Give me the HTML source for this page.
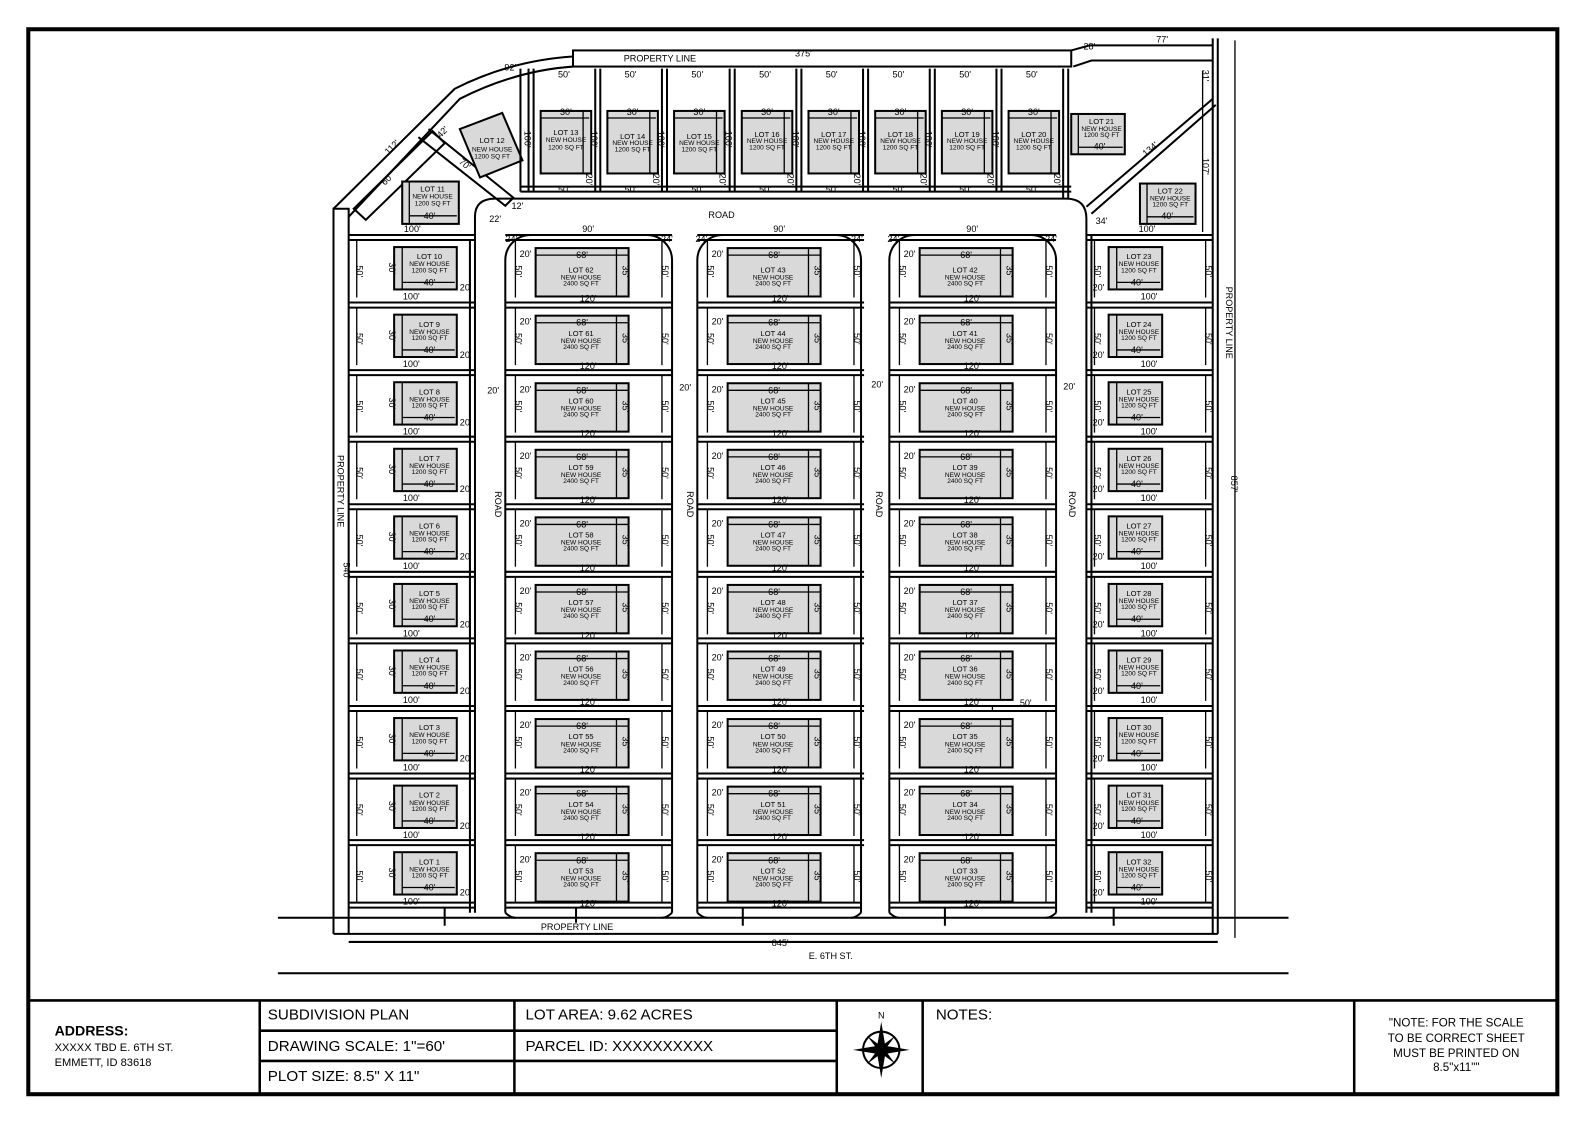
<!DOCTYPE html>
<html><head><meta charset="utf-8"><style>
html,body{margin:0;padding:0;background:#fff}
svg{display:block}
.s{stroke:#000;stroke-width:2;fill:none}
.t{stroke:#000;stroke-width:1.3;fill:none}
.h{fill:#d9d9d9;stroke:#000;stroke-width:2}
text{font-family:"Liberation Sans",sans-serif;fill:#000}
.d{font-size:9px;text-anchor:middle}
.l{font-size:6.5px;text-anchor:middle}
.lb{font-size:7.5px;text-anchor:middle}
.tb{font-size:15px}
</style></head><body>
<svg width="1587" height="1123" viewBox="0 0 1587 1123" xmlns="http://www.w3.org/2000/svg">
<defs>
<g id="L">
<path class="s" d="M0 0H125M0 5H125"/>
<path class="t" d="M8 5V62M120 5V62"/>
<rect class="h" x="45" y="12" width="62" height="42"/>
<path class="t" d="M53 12V54M53 47H105"/>
<text class="d" x="80" y="50">40'</text>
<text class="d" x="62" y="64">100'</text>
<text class="d" x="115" y="55">20</text>
<text class="d" transform="translate(8 36) rotate(90)">50'</text>
<text class="d" transform="translate(40 33) rotate(90)">30'</text>
</g>
<g id="R">
<path class="s" d="M0 0H125M0 5H125"/>
<path class="t" d="M8 5V62M118 5V62"/>
<rect class="h" x="22" y="12" width="53" height="42"/>
<path class="t" d="M30 12V54M30 47H73"/>
<text class="d" x="50" y="50">40'</text>
<text class="d" x="62" y="64">100'</text>
<text class="d" x="12" y="55">20'</text>
<text class="d" transform="translate(8 36) rotate(90)">50'</text>
<text class="d" transform="translate(118 36) rotate(90)">50'</text>
</g>
<g id="M">
<path class="s" d="M0 0H165M0 5H165"/>
<path class="t" d="M10 5V62M155 5V62"/>
<rect class="h" x="30" y="13" width="92" height="48"/>
<path class="t" d="M30 20H122M110 13V61"/>
<text class="d" x="76" y="23">68'</text>
<text class="d" x="82" y="66">120'</text>
<text class="d" x="20" y="22">20'</text>
<text class="d" transform="translate(10 36) rotate(90)">50'</text>
<text class="d" transform="translate(155 36) rotate(90)">50'</text>
<text class="d" transform="translate(116 36) rotate(90)">35'</text>
</g>
<g id="T">
<path class="s" d="M0 0V122M5 0V122"/>
<rect class="h" x="12" y="42" width="50" height="62"/>
<path class="t" d="M12 49H60M54 42V104"/>
<text class="d" x="35" y="9">50'</text>
<text class="d" x="37" y="46">30'</text>
<text class="d" x="35" y="123">50'</text>
<text class="d" transform="translate(-4 70) rotate(90)">100'</text>
<text class="d" transform="translate(57 110) rotate(90)">20'</text>
</g>
</defs>
<g transform="scale(1.0106 1.0085)">
<!-- frame -->
<rect x="28" y="29" width="1513" height="1056" fill="none" stroke="#000" stroke-width="4"/>
<path class="s" stroke-width="3" d="M28 992H1541M257 992V1085M509 992V1085M828 992V1085M913 992V1085M1340 992V1085M257 1022H828M257 1052H828" style="stroke-width:2.5"/>
<text x="54" y="1027" style="font-size:14px;font-weight:bold">ADDRESS:</text>
<text x="54" y="1042" style="font-size:11px">XXXXX TBD E. 6TH ST.</text>
<text x="54" y="1057" style="font-size:11px">EMMETT, ID 83618</text>
<text class="tb" x="265" y="1011">SUBDIVISION PLAN</text>
<text class="tb" x="265" y="1042">DRAWING SCALE: 1"=60'</text>
<text class="tb" x="265" y="1072">PLOT SIZE: 8.5" X 11"</text>
<text class="tb" x="520" y="1011">LOT AREA: 9.62 ACRES</text>
<text class="tb" x="520" y="1042">PARCEL ID: XXXXXXXXXX</text>
<text class="tb" x="926" y="1011">NOTES:</text>
<text x="1441" y="1018" style="font-size:11.5px;text-anchor:middle">"NOTE: FOR THE SCALE</text>
<text x="1441" y="1033" style="font-size:11.5px;text-anchor:middle">TO BE CORRECT SHEET</text>
<text x="1441" y="1048" style="font-size:11.5px;text-anchor:middle">MUST BE PRINTED ON</text>
<text x="1441" y="1062" style="font-size:11.5px;text-anchor:middle">8.5"x11""</text>
<text x="872" y="1010" style="font-size:9px;text-anchor:middle">N</text>
<circle cx="872" cy="1041" r="18" fill="none" stroke="#000" stroke-width="2"/>
<path d="M872 1013L876 1037L900 1041L876 1045L872 1069L868 1045L844 1041L868 1037Z" fill="#000"/>
<path d="M858 1027L874 1039L886 1055L870 1043ZM886 1027L870 1039L858 1055L874 1043Z" fill="#000"/>

<!-- streets -->
<path class="s" d="M275 910H1275M275 965H1275"/>
<path class="s" d="M330 926H1205M345 934H1205"/>
<text class="d" x="571" y="922">PROPERTY LINE</text>
<text class="d" x="772" y="938" style="fill:#000">845'</text>
<text class="d" x="822" y="951">E. 6TH ST.</text>
<!-- left property -->
<path class="s" d="M330 926V207H345V926"/>
<text class="d" transform="translate(334 487) rotate(90)">PROPERTY LINE</text>
<text class="d" transform="translate(340 566) rotate(90)">540'</text>
<path class="s" d="M470 233V905M465 238V905"/>
<!-- top boundary -->
<path class="s" d="M330 207L450 88Q505 60 567 56M345 215L455 98Q510 70 567 66"/>
<rect class="s" x="567" y="50" width="493" height="16"/>
<text class="d" x="653" y="61">PROPERTY LINE</text>
<text class="d" x="795" y="56">375'</text>
<path class="s" d="M1060 50L1078 45H1200M1062 66L1080 60H1200"/>
<text class="d" x="1078" y="49">28'</text><text class="d" x="1150" y="42">77'</text>
<path class="s" d="M350 207L428 130L440 142L362 218ZM414 136L500 204L508 196L424 128"/>
<text class="d" transform="translate(390 148) rotate(-45)">112'</text>
<text class="d" transform="translate(440 133) rotate(-45)">42'</text>
<text class="d" transform="translate(458 165) rotate(40)">70'</text>
<text class="d" transform="translate(385 180) rotate(-45)">60'</text>
<text class="d" x="505" y="70">92'</text>
<polygon class="h" points="455,128 497,112 517,159 475,176" transform="translate(0 0)"/>
<text class="lb" x="487" y="142">LOT 12</text><text class="l" x="487" y="150">NEW HOUSE</text><text class="l" x="487" y="157">1200 SQ FT</text>
<!-- road edges top -->
<path class="s" d="M470 233V215Q470 197 490 197H1055Q1075 197 1075 217V905M1080 233V905"/>
<text class="d" x="714" y="216">ROAD</text>
<text class="d" transform="translate(490 500) rotate(90)">ROAD</text>
<text class="d" transform="translate(680 500) rotate(90)">ROAD</text>
<text class="d" transform="translate(867 500) rotate(90)">ROAD</text>
<text class="d" transform="translate(1058 500) rotate(90)">ROAD</text>
<text class="d" x="490" y="220">22'</text><text class="d" x="512" y="207">12'</text>
<text class="d" x="1090" y="222">34'</text>
<!-- right property -->
<path class="s" d="M1200 38V926M1205 38V926"/>
<path class="t" d="M1222 40V930"/>
<text class="d" transform="translate(1213 320) rotate(90)">PROPERTY LINE</text>
<text class="d" transform="translate(1218 480) rotate(90)">857'</text>
<path class="s" d="M1075 205L1200 98M1080 212L1203 104"/>
<text class="d" transform="translate(1140 150) rotate(-40)">134'</text>
<path class="t" d="M1190 70V230"/>
<text class="d" transform="translate(1190 75) rotate(90)">31'</text>
<text class="d" transform="translate(1190 165) rotate(90)">107'</text>
<!-- top lots -->
<path class="s" d="M515 68V190M515 190H1060M515 185H1060"/>
<use href="#T" x="523" y="68"/><use href="#T" x="589" y="68"/><use href="#T" x="655" y="68"/><use href="#T" x="722" y="68"/><use href="#T" x="788" y="68"/><use href="#T" x="854" y="68"/><use href="#T" x="920" y="68"/><use href="#T" x="986" y="68"/>
<path class="s" d="M1052 68V197M1057 68V197"/>
<g class="lb"><text x="560" y="134">LOT 13</text><text x="626" y="138">LOT 14</text><text x="692" y="138">LOT 15</text><text x="759" y="136">LOT 16</text><text x="825" y="136">LOT 17</text><text x="891" y="136">LOT 18</text><text x="957" y="136">LOT 19</text><text x="1023" y="136">LOT 20</text></g>
<g class="l"><text x="560" y="141">NEW HOUSE</text><text x="626" y="144">NEW HOUSE</text><text x="692" y="144">NEW HOUSE</text><text x="759" y="142">NEW HOUSE</text><text x="825" y="142">NEW HOUSE</text><text x="891" y="142">NEW HOUSE</text><text x="957" y="142">NEW HOUSE</text><text x="1023" y="142">NEW HOUSE</text>
<text x="560" y="148">1200 SQ FT</text><text x="626" y="150">1200 SQ FT</text><text x="692" y="150">1200 SQ FT</text><text x="759" y="148">1200 SQ FT</text><text x="825" y="148">1200 SQ FT</text><text x="891" y="148">1200 SQ FT</text><text x="957" y="148">1200 SQ FT</text><text x="1023" y="148">1200 SQ FT</text></g>
<!-- lot 11, 21, 22 -->
<rect class="h" x="398" y="180" width="56" height="42"/><path class="t" d="M405 180V222M405 214H452"/>
<text class="lb" x="428" y="190">LOT 11</text><text class="l" x="428" y="197">NEW HOUSE</text><text class="l" x="428" y="204">1200 SQ FT</text><text class="d" x="425" y="217">40'</text>
<rect class="h" x="1060" y="113" width="53" height="40"/><path class="t" d="M1067 113V153M1067 146H1111"/>
<text class="lb" x="1090" y="123">LOT 21</text><text class="l" x="1090" y="130">NEW HOUSE</text><text class="l" x="1090" y="136">1200 SQ FT</text><text class="d" x="1088" y="148">40'</text>
<rect class="h" x="1128" y="182" width="55" height="40"/><path class="t" d="M1135 182V222M1135 215H1181"/>
<text class="lb" x="1158" y="192">LOT 22</text><text class="l" x="1158" y="199">NEW HOUSE</text><text class="l" x="1158" y="205">1200 SQ FT</text><text class="d" x="1155" y="217">40'</text>
<text class="d" x="408" y="230">100'</text><text class="d" x="1135" y="230">100'</text>
<!-- left lots -->
<g><use href="#L" x="345" y="233"/><use href="#L" x="345" y="300"/><use href="#L" x="345" y="367"/><use href="#L" x="345" y="433"/><use href="#L" x="345" y="500"/><use href="#L" x="345" y="567"/><use href="#L" x="345" y="633"/><use href="#L" x="345" y="700"/><use href="#L" x="345" y="767"/><use href="#L" x="345" y="833"/></g>
<path class="s" d="M345 900H470M345 895H470"/>
<g class="lb"><text x="425" y="257">LOT 10</text><text x="425" y="324">LOT 9</text><text x="425" y="391">LOT 8</text><text x="425" y="457">LOT 7</text><text x="425" y="524">LOT 6</text><text x="425" y="591">LOT 5</text><text x="425" y="657">LOT 4</text><text x="425" y="724">LOT 3</text><text x="425" y="791">LOT 2</text><text x="425" y="857">LOT 1</text></g>
<g class="l"><text x="425" y="264">NEW HOUSE</text><text x="425" y="331">NEW HOUSE</text><text x="425" y="398">NEW HOUSE</text><text x="425" y="464">NEW HOUSE</text><text x="425" y="531">NEW HOUSE</text><text x="425" y="598">NEW HOUSE</text><text x="425" y="664">NEW HOUSE</text><text x="425" y="731">NEW HOUSE</text><text x="425" y="798">NEW HOUSE</text><text x="425" y="864">NEW HOUSE</text>
<text x="425" y="270">1200 SQ FT</text><text x="425" y="337">1200 SQ FT</text><text x="425" y="404">1200 SQ FT</text><text x="425" y="470">1200 SQ FT</text><text x="425" y="537">1200 SQ FT</text><text x="425" y="604">1200 SQ FT</text><text x="425" y="670">1200 SQ FT</text><text x="425" y="737">1200 SQ FT</text><text x="425" y="804">1200 SQ FT</text><text x="425" y="870">1200 SQ FT</text></g>
<!-- right lots -->
<g><use href="#R" x="1075" y="233"/><use href="#R" x="1075" y="300"/><use href="#R" x="1075" y="367"/><use href="#R" x="1075" y="433"/><use href="#R" x="1075" y="500"/><use href="#R" x="1075" y="567"/><use href="#R" x="1075" y="633"/><use href="#R" x="1075" y="700"/><use href="#R" x="1075" y="767"/><use href="#R" x="1075" y="833"/></g>
<path class="s" d="M1075 900H1200M1075 895H1200"/>
<g class="lb"><text x="1127" y="257">LOT 23</text><text x="1127" y="324">LOT 24</text><text x="1127" y="391">LOT 25</text><text x="1127" y="457">LOT 26</text><text x="1127" y="524">LOT 27</text><text x="1127" y="591">LOT 28</text><text x="1127" y="657">LOT 29</text><text x="1127" y="724">LOT 30</text><text x="1127" y="791">LOT 31</text><text x="1127" y="857">LOT 32</text></g>
<g class="l"><text x="1127" y="264">NEW HOUSE</text><text x="1127" y="331">NEW HOUSE</text><text x="1127" y="398">NEW HOUSE</text><text x="1127" y="464">NEW HOUSE</text><text x="1127" y="531">NEW HOUSE</text><text x="1127" y="598">NEW HOUSE</text><text x="1127" y="664">NEW HOUSE</text><text x="1127" y="731">NEW HOUSE</text><text x="1127" y="798">NEW HOUSE</text><text x="1127" y="864">NEW HOUSE</text>
<text x="1127" y="270">1200 SQ FT</text><text x="1127" y="337">1200 SQ FT</text><text x="1127" y="404">1200 SQ FT</text><text x="1127" y="470">1200 SQ FT</text><text x="1127" y="537">1200 SQ FT</text><text x="1127" y="604">1200 SQ FT</text><text x="1127" y="670">1200 SQ FT</text><text x="1127" y="737">1200 SQ FT</text><text x="1127" y="804">1200 SQ FT</text><text x="1127" y="870">1200 SQ FT</text></g>
<!-- blocks -->
<path class="s" d="M500 905V258A25 25 0 0 1 525 233H640A25 25 0 0 1 665 258V905M690 905V258A25 25 0 0 1 715 233H827A25 25 0 0 1 852 258V905M880 905V258A25 25 0 0 1 905 233H1020A25 25 0 0 1 1045 258V905"/>
<path class="s" d="M500 905Q505 910 510 910M665 905Q660 910 655 910M690 905Q695 910 700 910M852 905Q847 910 842 910M880 905Q885 910 890 910M1045 905Q1040 910 1035 910"/>
<text class="d" x="582" y="230">90'</text><text class="d" x="771" y="230">90'</text><text class="d" x="962" y="230">90'</text>
<text class="d" x="506" y="240">24'</text><text class="d" x="660" y="240">24'</text><text class="d" x="694" y="240">24'</text><text class="d" x="848" y="240">24'</text><text class="d" x="884" y="240">24'</text><text class="d" x="1040" y="240">24'</text>
<text class="d" x="488" y="390">20'</text><text class="d" x="678" y="387">20'</text><text class="d" x="868" y="384">20'</text><text class="d" x="1058" y="386">20'</text>
<g>
<use href="#M" x="500" y="233"/><use href="#M" x="500" y="300"/><use href="#M" x="500" y="367"/><use href="#M" x="500" y="433"/><use href="#M" x="500" y="500"/><use href="#M" x="500" y="567"/><use href="#M" x="500" y="633"/><use href="#M" x="500" y="700"/><use href="#M" x="500" y="767"/><use href="#M" x="500" y="833"/>
<use href="#M" x="690" y="233"/><use href="#M" x="690" y="300"/><use href="#M" x="690" y="367"/><use href="#M" x="690" y="433"/><use href="#M" x="690" y="500"/><use href="#M" x="690" y="567"/><use href="#M" x="690" y="633"/><use href="#M" x="690" y="700"/><use href="#M" x="690" y="767"/><use href="#M" x="690" y="833"/>
<use href="#M" x="880" y="233"/><use href="#M" x="880" y="300"/><use href="#M" x="880" y="367"/><use href="#M" x="880" y="433"/><use href="#M" x="880" y="500"/><use href="#M" x="880" y="567"/><use href="#M" x="880" y="633"/><use href="#M" x="880" y="700"/><use href="#M" x="880" y="767"/><use href="#M" x="880" y="833"/>
</g>
<path class="s" d="M500 900H665M500 895H665M690 900H852M690 895H852M880 900H1045M880 895H1045"/>
<path class="s" d="M440 900V918M570 900V915M735 900V918M935 900V918M1102 900V918"/>
<g class="lb">
<text x="575" y="270">LOT 62</text><text x="575" y="333">LOT 61</text><text x="575" y="400">LOT 60</text><text x="575" y="466">LOT 59</text><text x="575" y="533">LOT 58</text><text x="575" y="600">LOT 57</text><text x="575" y="666">LOT 56</text><text x="575" y="733">LOT 55</text><text x="575" y="800">LOT 54</text><text x="575" y="866">LOT 53</text>
<text x="765" y="270">LOT 43</text><text x="765" y="333">LOT 44</text><text x="765" y="400">LOT 45</text><text x="765" y="466">LOT 46</text><text x="765" y="533">LOT 47</text><text x="765" y="600">LOT 48</text><text x="765" y="666">LOT 49</text><text x="765" y="733">LOT 50</text><text x="765" y="800">LOT 51</text><text x="765" y="866">LOT 52</text>
<text x="955" y="270">LOT 42</text><text x="955" y="333">LOT 41</text><text x="955" y="400">LOT 40</text><text x="955" y="466">LOT 39</text><text x="955" y="533">LOT 38</text><text x="955" y="600">LOT 37</text><text x="955" y="666">LOT 36</text><text x="955" y="733">LOT 35</text><text x="955" y="800">LOT 34</text><text x="955" y="866">LOT 33</text>
</g>
<g class="l">
<text x="575" y="277">NEW HOUSE</text><text x="575" y="340">NEW HOUSE</text><text x="575" y="407">NEW HOUSE</text><text x="575" y="473">NEW HOUSE</text><text x="575" y="540">NEW HOUSE</text><text x="575" y="607">NEW HOUSE</text><text x="575" y="673">NEW HOUSE</text><text x="575" y="740">NEW HOUSE</text><text x="575" y="807">NEW HOUSE</text><text x="575" y="873">NEW HOUSE</text>
<text x="765" y="277">NEW HOUSE</text><text x="765" y="340">NEW HOUSE</text><text x="765" y="407">NEW HOUSE</text><text x="765" y="473">NEW HOUSE</text><text x="765" y="540">NEW HOUSE</text><text x="765" y="607">NEW HOUSE</text><text x="765" y="673">NEW HOUSE</text><text x="765" y="740">NEW HOUSE</text><text x="765" y="807">NEW HOUSE</text><text x="765" y="873">NEW HOUSE</text>
<text x="955" y="277">NEW HOUSE</text><text x="955" y="340">NEW HOUSE</text><text x="955" y="407">NEW HOUSE</text><text x="955" y="473">NEW HOUSE</text><text x="955" y="540">NEW HOUSE</text><text x="955" y="607">NEW HOUSE</text><text x="955" y="673">NEW HOUSE</text><text x="955" y="740">NEW HOUSE</text><text x="955" y="807">NEW HOUSE</text><text x="955" y="873">NEW HOUSE</text>
<text x="575" y="283">2400 SQ FT</text><text x="575" y="346">2400 SQ FT</text><text x="575" y="413">2400 SQ FT</text><text x="575" y="479">2400 SQ FT</text><text x="575" y="546">2400 SQ FT</text><text x="575" y="613">2400 SQ FT</text><text x="575" y="679">2400 SQ FT</text><text x="575" y="746">2400 SQ FT</text><text x="575" y="813">2400 SQ FT</text><text x="575" y="879">2400 SQ FT</text>
<text x="765" y="283">2400 SQ FT</text><text x="765" y="346">2400 SQ FT</text><text x="765" y="413">2400 SQ FT</text><text x="765" y="479">2400 SQ FT</text><text x="765" y="546">2400 SQ FT</text><text x="765" y="613">2400 SQ FT</text><text x="765" y="679">2400 SQ FT</text><text x="765" y="746">2400 SQ FT</text><text x="765" y="813">2400 SQ FT</text><text x="765" y="879">2400 SQ FT</text>
<text x="955" y="283">2400 SQ FT</text><text x="955" y="346">2400 SQ FT</text><text x="955" y="413">2400 SQ FT</text><text x="955" y="479">2400 SQ FT</text><text x="955" y="546">2400 SQ FT</text><text x="955" y="613">2400 SQ FT</text><text x="955" y="679">2400 SQ FT</text><text x="955" y="746">2400 SQ FT</text><text x="955" y="813">2400 SQ FT</text><text x="955" y="879">2400 SQ FT</text>
</g>
<path class="t" d="M982 700H1045V708M982 700V706"/><text class="d" x="1015" y="700">50'</text>
</g>
</svg>
</body></html>
